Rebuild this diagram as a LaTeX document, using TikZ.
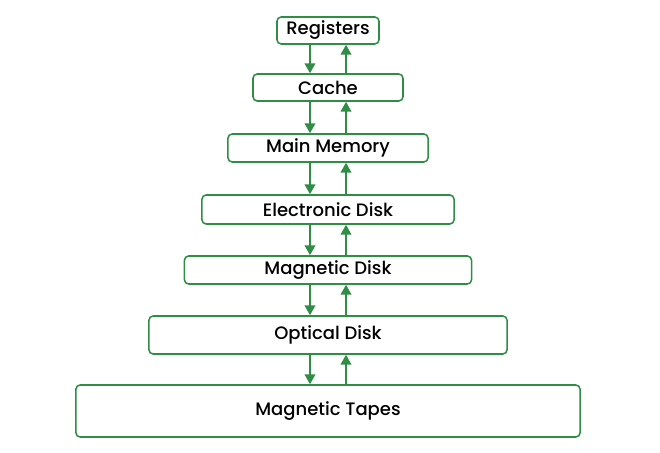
\documentclass[tikz,border=0pt]{standalone}
\usepackage{fontspec}
\setmainfont{Poppins}
\newfontfamily\medfont{Poppins Medium}
\usepackage{xcolor}
\usepackage{tikz}
\usetikzlibrary{shapes, arrows.meta, positioning, calc}

\definecolor{gfgreen}{HTML}{2F8D46}

\begin{document}
\begin{tikzpicture}[x=0.025cm, y=0.025cm,
  level/.style={draw=gfgreen, line width=1.1pt, rounded corners=3pt, fill=white,
    inner sep=0pt, font=\medfont\fontsize{12.8}{14}\selectfont},
  flow/.style={draw=gfgreen, line width=1.3pt, -{Triangle[length=7pt, width=7.5pt]}}]
\useasboundingbox (0,0) rectangle (660,453);

% Levels of the hierarchy
\node[level, minimum width=2.55cm, minimum height=0.675cm] (reg) at (328,422.5) {Registers};
\node[level, minimum width=3.75cm, minimum height=0.675cm] (cache) at (328,365.5) {Cache};
\node[level, minimum width=5.0cm, minimum height=0.7cm] (mem) at (328,305) {Main Memory};
\node[level, minimum width=6.3cm, minimum height=0.725cm] (edisk) at (328,243.5) {Electronic Disk};
\node[level, minimum width=7.175cm, minimum height=0.7cm] (mdisk) at (328,183) {Magnetic Disk};
\node[level, minimum width=8.95cm, minimum height=0.95cm] (odisk) at (328,118) {Optical Disk};
\node[level, minimum width=12.6cm, minimum height=1.3cm] (tapes) at (328,42) {Magnetic Tapes};

% Arrows between levels
\foreach \a/\b in {reg/cache, cache/mem, mem/edisk, edisk/mdisk, mdisk/odisk, odisk/tapes} {
  \draw[flow] ([xshift=-0.45cm]\a.south) -- ([xshift=-0.45cm]\b.north);
  \draw[flow] ([xshift=0.45cm]\b.north) -- ([xshift=0.45cm]\a.south);
}
\end{tikzpicture}
\end{document}
